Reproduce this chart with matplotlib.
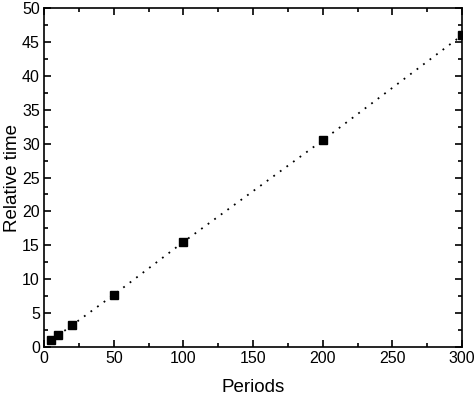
import matplotlib
matplotlib.use("Agg")
import matplotlib.pyplot as plt
from matplotlib.ticker import MultipleLocator

periods = [5, 10, 20, 50, 100, 200, 300]
rel_time = [1.0, 1.7, 3.2, 7.7, 15.5, 30.5, 46.0]

plt.rcParams['font.family'] = ['Liberation Sans', 'DejaVu Sans']

fig = plt.figure(figsize=(4.74, 3.95), dpi=100)
ax = fig.add_axes([0.093, 0.1215, 0.882, 0.858])
ax.plot(periods, rel_time, linestyle=(0, (1, 3.5)), color='black', linewidth=1.3)
ax.plot(periods, rel_time, linestyle='none', marker='s', markersize=6, color='black')
ax.set_xlim(0, 300)
ax.set_ylim(0, 50)
ax.xaxis.set_major_locator(MultipleLocator(50))
ax.xaxis.set_minor_locator(MultipleLocator(25))
ax.yaxis.set_major_locator(MultipleLocator(5))
ax.yaxis.set_minor_locator(MultipleLocator(2.5))
ax.tick_params(which='both', direction='in', top=True, right=True, labelsize=11.5, width=1.2)
ax.tick_params(which='major', length=5, pad=3)
ax.tick_params(which='minor', length=3)
for s in ax.spines.values():
    s.set_linewidth(1.2)
ax.set_xlabel('Periods', fontsize=13.5, labelpad=9)
ax.set_ylabel('Relative time', fontsize=13.5, labelpad=1)
fig.savefig('out.png', dpi=100)
